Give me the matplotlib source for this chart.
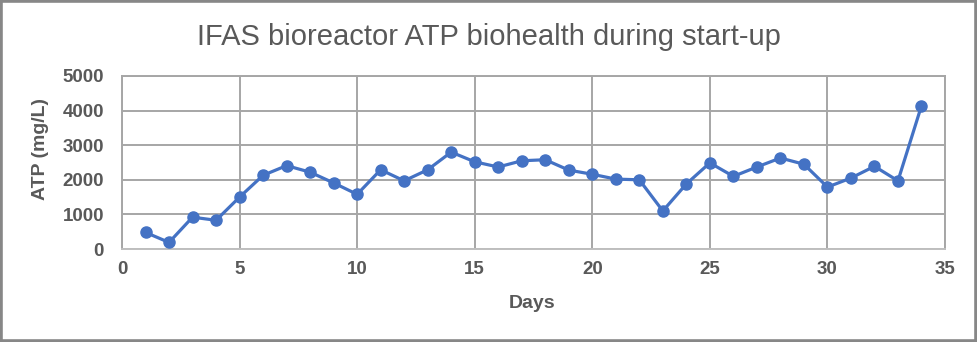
import matplotlib
matplotlib.use('Agg')
from matplotlib import pyplot as plt
from matplotlib.patches import Rectangle

plt.rcParams['font.family'] = ['Liberation Sans', 'DejaVu Sans']

days = list(range(1, 35))
atp = [480, 190, 920, 830, 1500, 2130, 2410, 2220, 1910, 1580,
       2290, 1970, 2290, 2800, 2520, 2370, 2550, 2580, 2280, 2160,
       2020, 2000, 1100, 1880, 2490, 2100, 2370, 2630, 2450, 1790,
       2050, 2390, 1970, 4140]

x_ticks = [0, 5, 10, 15, 20, 25, 30, 35]
y_ticks = [0, 1000, 2000, 3000, 4000, 5000]

text_color = '#595959'
grid_color = '#a6a6a6'
W, H = 978, 342

fig = plt.figure(figsize=(9.78, 3.42), dpi=100)
ax = fig.add_axes([122 / W, 1 - 249 / H, (945 - 122) / W, (249 - 76) / H])

ax.plot(days, atp, color='#4472c4', linewidth=2.3, marker='o',
        markersize=8, zorder=3, clip_on=False)

ax.set_xlim(0, 35)
ax.set_ylim(0, 5000)
ax.set_xticks(x_ticks)
ax.set_yticks(y_ticks)
ax.grid(True, color=grid_color, linewidth=1.4)
ax.set_axisbelow(True)
for s in ax.spines.values():
    s.set_color(grid_color)
    s.set_linewidth(1.4)
ax.spines['bottom'].set_color('#bfbfbf')
ax.tick_params(length=0, labelsize=13.5, labelcolor=text_color)
ax.tick_params(axis='x', pad=9)
ax.tick_params(axis='y', pad=13)
for lab in ax.get_xticklabels() + ax.get_yticklabels():
    lab.set_fontweight('bold')

# axis titles placed in figure pixels
fig.text(532.5 / W, 1 - 303 / H, 'Days', ha='center', va='center',
         fontsize=14, fontweight='bold', color=text_color)
fig.text(41 / W, 1 - 149 / H, 'ATP (mg/L)', ha='center', va='center', rotation=90,
         fontsize=14, fontweight='bold', color=text_color)

fig.text(0.5, 1 - 37 / H, 'IFAS bioreactor ATP biohealth during start-up',
         ha='center', va='center', fontsize=21, color=text_color)

fig.patches.append(Rectangle((0.0015, 0.004), 0.996, 0.992, transform=fig.transFigure,
                             fill=False, edgecolor='#878787', linewidth=2.6))

plt.savefig('out.png', dpi=100)
